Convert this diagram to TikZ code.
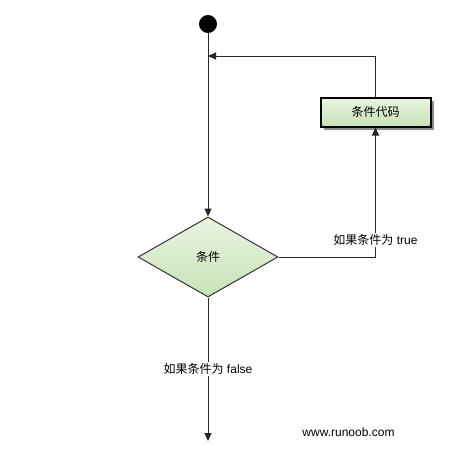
\documentclass[tikz,border=0pt]{standalone}
\usepackage{fontspec}
\setmainfont{Liberation Sans}
\newfontfamily\cjk{Noto Sans CJK SC}
\usetikzlibrary{shapes.geometric,arrows.meta,shadows}
\definecolor{gtop}{HTML}{E9F5E2}
\definecolor{gbot}{HTML}{C7E2B6}
\begin{document}
\begin{tikzpicture}[x=1pt,y=-1pt,
  every node/.style={font=\fontsize{12pt}{14pt}\selectfont},
  arr/.style={draw=black!85,line width=1pt,-{Triangle[length=8pt,width=7pt]}},
  lbl/.style={fill=white,inner sep=1.5pt},
  decision/.style={diamond,draw=black!80,line width=1pt,inner sep=0pt,aspect=1.75,
    minimum width=140pt,minimum height=80pt,top color=gtop,bottom color=gbot},
  codebox/.style={rectangle,draw=black,line width=2pt,minimum width=110pt,minimum height=29pt,
    top color=gtop,bottom color=gbot,
    drop shadow={shadow xshift=3.5pt,shadow yshift=-3.5pt,fill=black!45,opacity=1}}]
\useasboundingbox (0,0) rectangle (459,455);
\node[circle,fill=black,inner sep=0pt,minimum size=18pt] (start) at (208,24) {};
\node[decision] (cond) at (208,257) {\cjk 条件};
\node[codebox] (code) at (375.5,112) {\cjk 条件代码};
\coordinate (join) at (208,56);
\coordinate (end) at (208,441);
\draw[arr] (start) -- (cond.north);
\draw[arr] (cond.east) -| (code.south);
\draw[arr] (code.north) |- (join);
\draw[arr] (cond.south) -- (end);
\node[lbl] (tlabel) at (375.5,240) {{\cjk 如果条件为}\ true};
\node[lbl] (flabel) at (208,369) {{\cjk 如果条件为}\ false};
\node (site) at (348.5,432) {www.runoob.com};
\end{tikzpicture}
\end{document}
